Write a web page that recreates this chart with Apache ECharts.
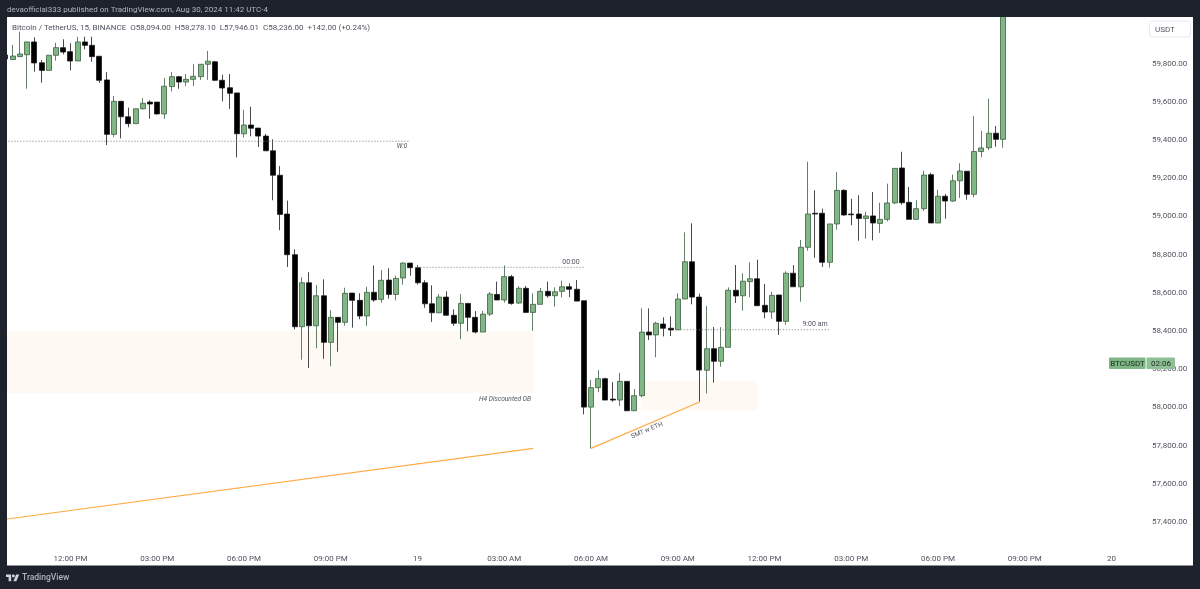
<!DOCTYPE html>
<html>
<head>
<meta charset="UTF-8">
<title>BTCUSDT 15m</title>
<style>
  html, body { margin: 0; padding: 0; background: #fff; }
  #main { width: 1200px; height: 589px; }
</style>
<script src="https://cdn.jsdelivr.net/npm/echarts@6/dist/echarts.min.js"></script>
</head>
<body>
<div id="main"></div>
<script>
// candles, left to right
var opens = [
  59846,59822,59837,59847,59914,59805,59765,59844,59884,59863,
  59814,59914,59896,59839,59715,59430,59603,59522,59486,59564,
  59599,59599,59537,59680,59732,59704,59718,59732,59797,59810,
  59713,59674,59647,59433,59479,59463,59421,59344,59216,59013,
  58800,58423,58653,58428,58585,58341,58472,58446,58599,58561,
  58479,58603,58566,58667,58592,58678,58756,58732,58653,58543,
  58496,58578,58483,58441,58545,58472,58395,58489,58592,58563,
  58685,58547,58624,58498,58540,58608,58585,58608,58632,58619,
  58559,58002,58104,58151,58044,58039,58137,57983,58062,58395,
  58380,58437,58415,58407,58568,58763,58578,58195,58308,58242,
  58315,58614,58585,58659,58674,58535,58500,58589,58451,58703,
  58632,58839,59017,59017,58760,58961,59137,59013,59013,58990,
  59003,58964,58985,59071,59254,59074,58985,59041,59219,58966,
  59106,59081,59187,59237,59116,59340,59360,59436,59404
];
var closes = [
  59825,59840,59851,59914,59804,59765,59844,59884,59861,59814,
  59914,59896,59837,59713,59430,59603,59522,59486,59564,59593,
  59589,59537,59682,59732,59704,59718,59734,59797,59813,59713,
  59673,59645,59433,59479,59462,59421,59344,59216,59011,58800,
  58423,58653,58428,58585,58341,58472,58446,58598,58561,58479,
  58603,58563,58666,58592,58676,58756,58732,58653,58543,58496,
  58578,58483,58441,58545,58472,58395,58489,58594,58563,58685,
  58545,58624,58498,58540,58608,58585,58606,58632,58619,58557,
  58002,58104,58151,58039,58039,58137,57983,58062,58395,58380,
  58441,58415,58406,58568,58763,58578,58196,58308,58242,58315,
  58614,58584,58661,58674,58533,58500,58587,58451,58703,58632,
  58839,59013,59013,58760,58961,59137,59008,59009,58990,59003,
  58966,58985,59071,59252,59072,58985,59041,59217,58966,59106,
  59081,59187,59238,59116,59340,59359,59436,59404,60120
];
var lows = [
  59819,59822,59835,59669,59758,59700,59765,59816,59849,59765,
  59814,59875,59810,59700,59374,59415,59409,59467,59486,59559,
  59512,59533,59512,59655,59669,59683,59683,59715,59715,59709,
  59603,59563,59310,59413,59420,59364,59344,59085,58928,58736,
  58409,58250,58207,58310,58255,58216,58292,58428,58418,58462,
  58427,58554,58549,58570,58561,58643,58690,58644,58522,58448,
  58493,58481,58427,58357,58399,58388,58395,58479,58563,58549,
  58538,58542,58498,58402,58540,58575,58528,58577,58577,58557,
  57964,57786,58080,58039,58030,58008,57983,57983,58053,58353,
  58263,58372,58374,58406,58568,58540,58030,58074,58130,58213,
  58315,58547,58507,58577,58533,58467,58465,58380,58433,58632,
  58554,58821,58784,58736,58732,58931,59004,58954,58873,58884,
  58875,58914,58975,59065,59062,58985,58985,59029,58966,58966,
  58988,59077,59097,59088,59100,59310,59348,59365,59360
];
var highs = [
  59856,59899,59968,59914,59938,59819,59844,59910,59928,59907,
  59941,59941,59941,59840,59756,59631,59605,59570,59564,59620,
  59608,59599,59725,59756,59736,59746,59798,59798,59867,59814,
  59742,59746,59647,59558,59575,59463,59432,59404,59264,59083,
  58828,58682,58708,58641,58671,58510,58474,58627,58599,58598,
  58632,58744,58720,58729,58690,58760,58756,58745,58666,58640,
  58594,58608,58514,58594,58547,58505,58505,58605,58659,58744,
  58694,58636,58636,58598,58626,58659,58629,58664,58650,58667,
  58559,58144,58196,58156,58133,58182,58137,58097,58519,58519,
  58449,58472,58477,58598,58917,58964,58596,58531,58421,58421,
  58629,58746,58703,58760,58774,58647,58606,58589,58713,58746,
  58877,59287,59137,59041,58961,59233,59142,59093,59111,59025,
  59128,59072,59172,59252,59339,59154,59085,59240,59229,59140,
  59118,59219,59279,59237,59526,59449,59617,59474,60150
];

// axes
var barSlots = 158;
var timeTickBars = [9, 21, 33, 45, 57, 69, 81, 93, 105, 117, 129, 141, 153];
var timeTickLabels = ['12:00 PM', '03:00 PM', '06:00 PM', '09:00 PM', '19', '03:00 AM', '06:00 AM', '09:00 AM', '12:00 PM', '03:00 PM', '06:00 PM', '09:00 PM', '20'];
var priceTicks = [57400, 57600, 57800, 58000, 58200, 58400, 58600, 58800, 59000, 59200, 59400, 59600, 59800];

// drawings: [bar, price] pairs
var weekOpenLine = [[0, 59394], [56, 59394]];
var midnightLine = [[57, 58734], [80, 58734]];
var nineAmLine = [[93, 58407], [114, 58407]];
var trendLine = [[0, 57415], [73, 57786]];
var smtLine = [[81, 57786], [96, 58029]];
var obZone = [[0, 58400], [73, 58076]];
var smallZone = [[88, 58140], [104, 57985]];

var categories = [];
for (var i = 0; i < barSlots; i++) {
  categories.push(String(i));
}

var candleData = opens.map(function (o, i) {
  return [o, closes[i], lows[i], highs[i]];
});

var FRAME = '#1e222d';
var FONT = 'Roboto, sans-serif';

function drawLine(points, color, type, width) {
  return {
    type: 'line',
    data: points,
    symbol: 'none',
    silent: true,
    z: 3,
    lineStyle: { color: color, width: width, type: type }
  };
}

function note(text, x, y, opts) {
  opts = opts || {};
  return {
    type: 'text',
    x: x,
    y: y,
    rotation: opts.rotation || 0,
    z: 60,
    style: {
      text: text,
      fill: opts.fill || '#50535e',
      font: (opts.italic ? 'italic ' : '') + (opts.weight || 400) + ' ' + (opts.size || 7) + 'px ' + FONT,
      textAlign: opts.align || 'center',
      textVerticalAlign: 'middle'
    }
  };
}

function frameRect(x, y, w, h) {
  return { type: 'rect', z: 50, shape: { x: x, y: y, width: w, height: h }, style: { fill: FRAME } };
}

var myChart = echarts.init(document.getElementById('main'), null, { renderer: 'canvas' });

var option = {
  animation: false,
  backgroundColor: '#ffffff',
  grid: { left: 1.8, top: 0, width: 1142.3, height: 560.3 },
  xAxis: {
    type: 'category',
    data: categories,
    axisLine: { show: false },
    axisTick: { show: false },
    splitLine: { show: false },
    axisLabel: {
      inside: true,
      margin: -3,
      color: '#50535e',
      fontFamily: FONT,
      fontSize: 8,
      interval: function (index) {
        return timeTickBars.indexOf(index) >= 0;
      },
      formatter: function (value, index) {
        return timeTickLabels[timeTickBars.indexOf(index)];
      }
    }
  },
  yAxis: {
    type: 'value',
    position: 'right',
    min: 57200,
    max: 60133.5,
    axisLine: { show: false },
    axisTick: { show: false },
    splitLine: { show: false },
    axisLabel: {
      customValues: priceTicks,
      margin: 8,
      color: '#50535e',
      fontFamily: FONT,
      fontSize: 8,
      formatter: function (v) {
        return v.toLocaleString('en-US', { minimumFractionDigits: 2 });
      }
    }
  },
  series: [
    {
      type: 'line',
      data: [],
      silent: true,
      z: 1,
      markArea: {
        silent: true,
        itemStyle: { color: '#fff9f3' },
        data: [
          [{ coord: obZone[0] }, { coord: obZone[1] }],
          [{ coord: smallZone[0] }, { coord: smallZone[1] }]
        ]
      }
    },
    {
      type: 'candlestick',
      data: candleData,
      barWidth: 5.5,
      z: 2,
      itemStyle: {
        color: '#81b784',
        color0: '#000000',
        borderColor: '#3c5f43',
        borderColor0: '#1a1a1a',
        borderWidth: 0.8
      }
    },
    drawLine(weekOpenLine, '#787b86', [1, 2], 1),
    drawLine(midnightLine, '#787b86', [1, 2], 1),
    drawLine(nineAmLine, '#787b86', [1, 2], 1),
    drawLine(trendLine, '#ffab45', 'solid', 1.2),
    drawLine(smtLine, '#ffab45', 'solid', 1.2)
  ],
  graphic: {
    elements: [
      frameRect(0, 0, 1200, 17),
      frameRect(0, 0, 7, 589),
      frameRect(1193, 0, 7, 589),
      frameRect(0, 565.5, 1200, 24),
      note('devaofficial333 published on TradingView.com, Aug 30, 2024 11:42 UTC-4', 7, 9.5, { align: 'left', size: 8, fill: '#b2b5be' }),
      note('Bitcoin / TetherUS, 15, BINANCE  O58,094.00  H58,278.10  L57,946.01  C58,236.00  +142.00 (+0.24%)', 12, 27.5, { align: 'left', size: 8 }),
      note('W:0', 402, 146.5, { italic: true, size: 6.5 }),
      note('00:00', 571, 262, { size: 7 }),
      note('9:00 am', 815, 324, { size: 7 }),
      note('H4 Discounted OB', 505, 399.5, { italic: true, size: 6.6 }),
      note('SMT w ETH', 647, 430.5, { size: 6.5, rotation: 0.4 }),
      {
        type: 'rect', z: 20,
        shape: { x: 1149.5, y: 21, width: 41, height: 16, r: 3 },
        style: { fill: '#ffffff', stroke: '#e8eaf0', lineWidth: 1 }
      },
      note('USDT', 1155, 29.5, { align: 'left', size: 8 }),
      { type: 'rect', z: 20, shape: { x: 1109, y: 357.5, width: 36.5, height: 11.5, r: 1 }, style: { fill: '#7fb685' } },
      { type: 'rect', z: 20, shape: { x: 1146.5, y: 357.5, width: 28.5, height: 11.5, r: 1 }, style: { fill: '#8fbf94' } },
      note('BTCUSDT', 1127.5, 363.5, { size: 8, fill: '#1e2a20' }),
      note('02:06', 1161, 363.5, { size: 8, fill: '#1e2a20' }),
      {
        type: 'group', x: 6, y: 573, scaleX: 0.37, scaleY: 0.37,
        children: [
          { type: 'polygon', z: 60, shape: { points: [[0, 4], [14, 4], [14, 22], [7, 22], [7, 11], [0, 11]] }, style: { fill: '#d1d4dc' } },
          { type: 'polygon', z: 60, shape: { points: [[20, 22], [27.5, 4], [35.5, 4], [28, 22]] }, style: { fill: '#d1d4dc' } },
          { type: 'circle', z: 60, shape: { cx: 20, cy: 8, r: 4 }, style: { fill: '#d1d4dc' } }
        ]
      },
      note('TradingView', 22, 578, { align: 'left', size: 8.5, weight: 500, fill: '#b2b5be' })
    ]
  }
};

myChart.setOption(option);
</script>
</body>
</html>
